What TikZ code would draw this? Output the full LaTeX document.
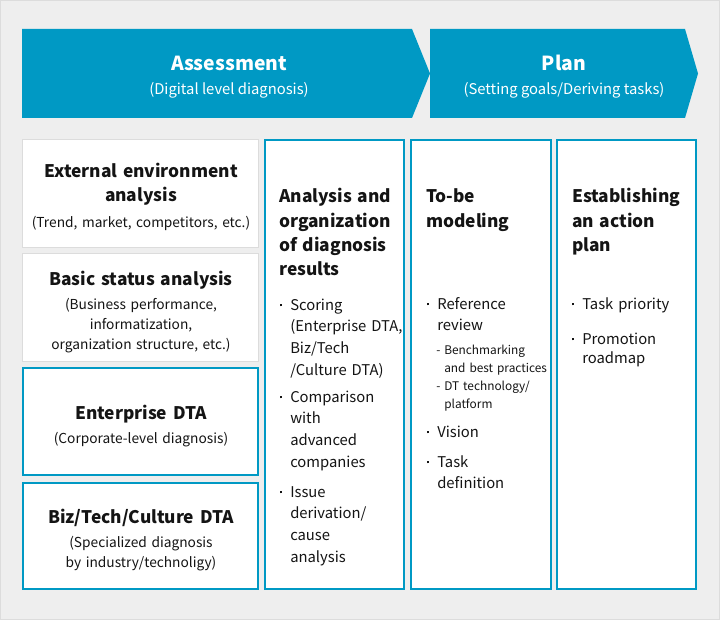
\documentclass[tikz,border=0pt]{standalone}
\usepackage{fontspec}
\setmainfont{Noto Sans CJK KR}
\definecolor{dtblue}{HTML}{0099C4}
\definecolor{pagegray}{HTML}{EEEEEE}
\definecolor{boxgray}{HTML}{DCDCDC}
\definecolor{ink}{HTML}{141414}
\newcommand{\bul}[1]{\makebox[7.5pt][l]{\raisebox{2.8pt}{\rule{1.6pt}{1.6pt}}}\parbox[t]{150pt}{\raggedright #1}}
\newcommand{\subdash}[1]{\makebox[6pt][l]{-}\parbox[t]{150pt}{\raggedright #1}}
\tikzset{
  banner/.style={fill=dtblue},
  graybox/.style={draw=boxgray, fill=white, line width=0.75pt},
  bluebox/.style={draw=dtblue, fill=white, line width=1.5pt},
  bantitle/.style={text=white, anchor=base, inner sep=0pt, font=\bfseries\fontsize{14.5}{18}\selectfont},
  bansub/.style={text=white, anchor=base, inner sep=0pt, font=\fontsize{11.1}{14}\selectfont},
  boxhead/.style={text=ink, anchor=base, inner sep=0pt, text width=240pt, align=center, font=\bfseries\fontsize{13}{18}\selectfont},
  boxnote/.style={text=ink, anchor=base, inner sep=0pt, text width=240pt, align=center, font=\fontsize{10.3}{15}\selectfont},
  colhead/.style={text=ink, anchor=base west, inner sep=0pt, text width=150pt, align=left, font=\bfseries\fontsize{13}{18.2}\selectfont},
  item/.style={text=ink, anchor=base west, inner sep=0pt, text width=160pt, align=left, font=\fontsize{11.1}{16.3}\selectfont},
  subitem/.style={text=ink, anchor=base west, inner sep=0pt, text width=160pt, align=left, font=\fontsize{8.9}{13.5}\selectfont}
}
\begin{document}
\begin{tikzpicture}[x=0.75pt, y=-0.75pt]
  \useasboundingbox (0,0) rectangle (720,620);
  % page
  \fill[pagegray] (0,0) rectangle (720,620);
  \draw[boxgray, line width=0.75pt] (0.5,0.5) rectangle (719.5,619.5);
  % banners
  \fill[banner] (22,29) -- (412,29) -- (430,73.5) -- (412,118) -- (22,118) -- cycle;
  \fill[banner] (430,29) -- (685,29) -- (698,73.5) -- (685,118) -- (430,118) -- cycle;
  \node[bantitle] (assess) at (229,71) {Assessment};
  \node[bansub] (assesssub) at (229,95) {(Digital level diagnosis)};
  \node[bantitle] (plan) at (564,71) {Plan};
  \node[bansub] (plansub) at (564,95) {(Setting goals/Deriving tasks)};
  % left column
  \draw[graybox] (22.5,139.5) rectangle (258.5,247.5);
  \draw[graybox] (22.5,253.5) rectangle (258.5,361.5);
  \draw[bluebox] (23,368) rectangle (258,475);
  \draw[bluebox] (23,483) rectangle (258,589);
  \node[boxhead] (ext) at (141,178) {External environment\\analysis};
  \node[boxnote] (extnote) at (141,228) {(Trend, market, competitors, etc.)};
  \node[boxhead] (basic) at (141,285) {Basic status analysis};
  \node[boxnote] (basicnote) at (141,309) {(Business performance,\\informatization,\\organization structure, etc.)};
  \node[boxhead] (ent) at (141,419) {Enterprise DTA};
  \node[boxnote] (entnote) at (141,443) {(Corporate-level diagnosis)};
  \node[boxhead] (biz) at (141,523) {Biz/Tech/Culture DTA};
  \node[boxnote] (biznote) at (141,547) {(Specialized diagnosis\\by industry/technoligy)};
  % columns
  \draw[bluebox] (265,140) rectangle (404,589);
  \draw[bluebox] (411,140) rectangle (551,589);
  \draw[bluebox] (557,140) rectangle (696,589);
  \node[colhead] (analysis) at (279,203) {Analysis and\\organization\\of diagnosis\\results};
  \node[item] (scoring) at (280,310) {\bul{Scoring\\(Enterprise DTA,\\Biz/Tech\\/Culture DTA)}};
  \node[item] (compare) at (280,402) {\bul{Comparison\\with\\advanced\\companies}};
  \node[item] (issue) at (280,497) {\bul{Issue\\derivation/\\cause\\analysis}};
  \node[colhead] (tobe) at (426,203) {To-be\\modeling};
  \node[item] (refer) at (427,309) {\bul{Reference\\review}};
  \node[subitem] (bench) at (436,354) {\subdash{Benchmarking\\and best practices}};
  \node[subitem] (dttech) at (436,390) {\subdash{DT technology/\\platform}};
  \node[item] (vision) at (427,437) {\bul{Vision}};
  \node[item] (taskdef) at (427,467) {\bul{Task\\definition}};
  \node[colhead] (action) at (572,203) {Establishing\\an action\\plan};
  \node[item] (priority) at (572,309) {\bul{Task priority}};
  \node[item, font=\fontsize{11.1}{14.6}\selectfont] (roadmap) at (572,344) {\bul{Promotion\\roadmap}};
\end{tikzpicture}
\end{document}
